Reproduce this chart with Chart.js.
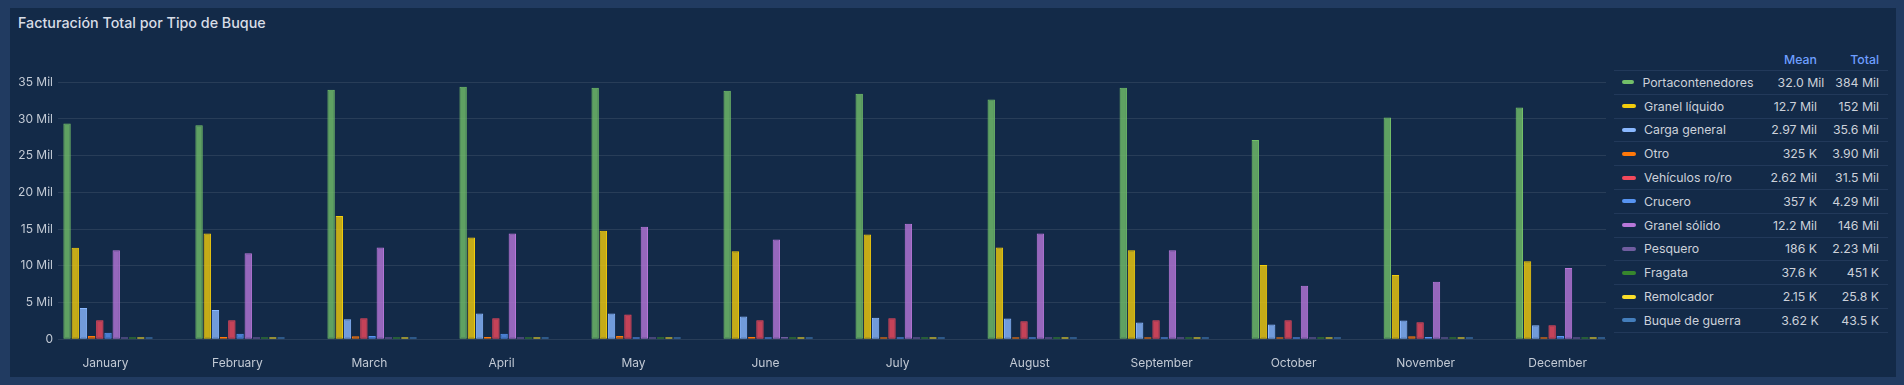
<!DOCTYPE html>
<html>
<head>
<meta charset="utf-8">
<script src="https://cdn.jsdelivr.net/npm/chart.js@4"></script>
<style>
  html, body { margin: 0; padding: 0; }
  body { width: 1904px; height: 385px; background: #213b61; font-family: Inter, "Noto Sans", sans-serif; overflow: hidden; position: relative; }
  #panel { position: absolute; left: 10px; top: 8px; width: 1886px; height: 369px; background: #132a48; }
  #title { position: absolute; left: 18px; top: 14px; font-size: 14.3px; font-weight: 500; color: #d8dde6; }
  #chart-wrap { position: absolute; left: 10px; top: 70px; width: 1600px; height: 300px; }
  #legend { position: absolute; left: 1614px; top: 48px; width: 274px; font-size: 12.3px; color: #ccd1da; }
  .row { display: flex; align-items: center; box-sizing: border-box; height: 23.8px; border-bottom: 1px solid #22395a; padding-right: 9px; }
  .row.head { height: 23px; color: #6e9fff; font-weight: 500; }
  .sw { width: 14px; height: 4px; border-radius: 2px; margin-left: 8px; }
  .name { flex: 1; margin-left: 8px; white-space: nowrap; }
  .head .name { margin-left: 30px; }
  .mean { width: 80px; text-align: right; }
  .total { width: 62px; text-align: right; }
</style>
</head>
<body>
<div id="panel"></div>
<div id="title">Facturación Total por Tipo de Buque</div>
<div id="chart-wrap"><canvas id="chart"></canvas></div>
<div id="legend"></div>
<script>
// meses
var months = ['January', 'February', 'March', 'April', 'May', 'June', 'July', 'August', 'September', 'October', 'November', 'December'];

// valores en millones (Mil)
var portacontenedores = [29.37, 29.14, 33.97, 34.37, 34.24, 33.83, 33.43, 32.63, 34.24, 27.13, 30.21, 31.55];
var granelLiquido     = [12.47, 14.39, 16.80, 13.85, 14.79, 11.98, 14.25, 12.51, 12.11, 10.10, 8.76, 10.63];
var cargaGeneral      = [4.25, 4.00, 2.72, 3.50, 3.50, 3.10, 2.95, 2.82, 2.30, 2.03, 2.55, 1.90];
var otro              = [0.44, 0.31, 0.40, 0.30, 0.44, 0.30, 0.25, 0.25, 0.25, 0.28, 0.40, 0.28];
var vehiculosRoro     = [2.59, 2.59, 2.86, 2.86, 3.39, 2.59, 2.86, 2.45, 2.59, 2.59, 2.32, 1.92];
var crucero           = [0.90, 0.75, 0.45, 0.75, 0.12, 0.12, 0.04, 0.04, 0.12, 0.25, 0.30, 0.45];
var granelSolido      = [12.11, 11.71, 12.51, 14.39, 15.33, 13.58, 15.73, 14.39, 12.11, 7.28, 7.82, 9.70];
var pesquero          = [0.18, 0.20, 0.20, 0.25, 0.25, 0.30, 0.20, 0.25, 0.05, 0.05, 0.10, 0.20];
var fragata           = [0.03, 0.03, 0.05, 0.02, 0.02, 0.10, 0.02, 0.02, 0.02, 0.12, 0.02, 0.021];
var remolcador        = [0.002, 0.002, 0.002, 0.002, 0.002, 0.002, 0.002, 0.002, 0.003, 0.002, 0.002, 0.002];
var buqueGuerra       = [0.004, 0.003, 0.004, 0.004, 0.003, 0.004, 0.004, 0.003, 0.004, 0.003, 0.004, 0.004];

var seriesNames  = ['Portacontenedores', 'Granel líquido', 'Carga general', 'Otro', 'Vehículos ro/ro', 'Crucero', 'Granel sólido', 'Pesquero', 'Fragata', 'Remolcador', 'Buque de guerra'];
var seriesColors = ['#73BF69', '#F2CC0C', '#8AB8FF', '#FF780A', '#F2495C', '#5794F2', '#B877D9', '#705DA0', '#37872D', '#FADE2A', '#447EBC'];
var seriesMeans  = ['32.0 Mil', '12.7 Mil', '2.97 Mil', '325 K', '2.62 Mil', '357 K', '12.2 Mil', '186 K', '37.6 K', '2.15 K', '3.62 K'];
var seriesTotals = ['384 Mil', '152 Mil', '35.6 Mil', '3.90 Mil', '31.5 Mil', '4.29 Mil', '146 Mil', '2.23 Mil', '451 K', '25.8 K', '43.5 K'];
var seriesData   = [portacontenedores, granelLiquido, cargaGeneral, otro, vehiculosRoro, crucero, granelSolido, pesquero, fragata, remolcador, buqueGuerra];

var yTicks = [0, 5, 10, 15, 20, 25, 30, 35];

function hexToRgba(hex, a) {
    var n = parseInt(hex.slice(1), 16);
    return 'rgba(' + ((n >> 16) & 255) + ',' + ((n >> 8) & 255) + ',' + (n & 255) + ',' + a + ')';
}

// leyenda en forma de tabla
var legend = document.getElementById('legend');
var head = document.createElement('div');
head.className = 'row head';
head.innerHTML = '<span class="name"></span><span class="mean">Mean</span><span class="total">Total</span>';
legend.appendChild(head);
for (var i = 0; i < seriesNames.length; i++) {
    var row = document.createElement('div');
    row.className = 'row';
    row.innerHTML = '<span class="sw" style="background:' + seriesColors[i] + '"></span>' +
        '<span class="name">' + seriesNames[i] + '</span>' +
        '<span class="mean">' + seriesMeans[i] + '</span>' +
        '<span class="total">' + seriesTotals[i] + '</span>';
    legend.appendChild(row);
}

var datasets = seriesData.map(function(values, i) {
    return {
        label: seriesNames[i],
        data: values.map(function(v, j) { return { x: j, y: v }; }),
        backgroundColor: hexToRgba(seriesColors[i], 0.8),
        borderColor: seriesColors[i],
        borderWidth: 1,
        borderSkipped: false,
        minBarLength: 2,
        categoryPercentage: 0.683,
        barPercentage: 0.9
    };
});

var ctx = document.getElementById('chart').getContext('2d');
new Chart(ctx, {
    type: 'bar',
    data: { datasets: datasets },
    options: {
        responsive: true,
        maintainAspectRatio: false,
        animation: false,
        layout: { padding: { top: 8, right: 4, bottom: 0, left: 0 } },
        plugins: { legend: { display: false }, tooltip: { enabled: false } },
        scales: {
            x: {
                type: 'linear',
                offset: false,
                min: -0.379,
                max: 11.346,
                grid: { display: false, offset: false },
                border: { display: false },
                afterBuildTicks: function(scale) {
                    scale.ticks = months.map(function(m, i) { return { value: i - 0.02 }; });
                },
                afterFit: function(scale) { scale.height = 30.7; },
                ticks: {
                    padding: 9,
                    maxRotation: 0,
                    autoSkip: false,
                    color: 'rgba(214,219,228,0.9)',
                    font: { family: 'Inter', size: 12 },
                    callback: function(value, index) { return months[index]; }
                }
            },
            y: {
                min: 0,
                max: 35,
                afterBuildTicks: function(scale) {
                    scale.ticks = yTicks.map(function(v) { return { value: v }; });
                },
                afterFit: function(scale) { scale.width = 48; },
                grid: { color: 'rgba(255,255,255,0.09)', drawTicks: false },
                border: { display: false },
                ticks: {
                    padding: 5,
                    color: 'rgba(214,219,228,0.9)',
                    font: { family: 'Inter', size: 12 },
                    callback: function(value) { return value === 0 ? '0' : value + ' Mil'; }
                }
            }
        }
    }
});
</script>
</body>
</html>
